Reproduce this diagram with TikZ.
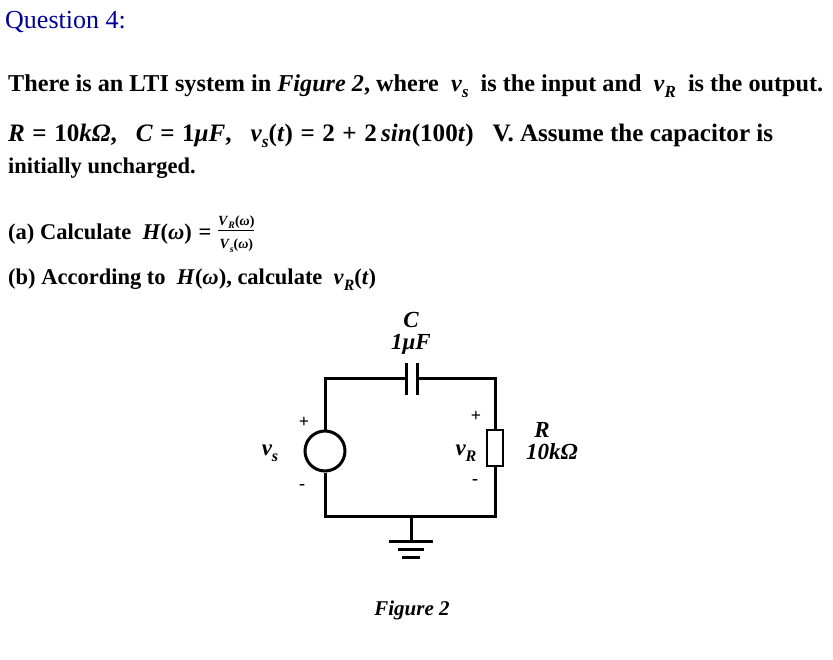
\documentclass[tikz,border=0pt]{standalone}
\usepackage{fontspec}
\setmainfont{Liberation Serif}
\newcommand{\mi}[1]{\textit{#1}}
\newcommand{\sbs}[1]{\raisebox{-0.25em}{\scalebox{0.7}{\textit{#1}}}}
\newcommand{\eqs}[1]{\hspace{0.3em}#1\hspace{0.3em}}
\begin{document}
\begin{tikzpicture}[x=1pt,y=-1pt,
  wire/.style={line width=3pt},
  txt/.style={anchor=west,inner sep=0pt,font=\fontsize{22.5}{26}\selectfont\bfseries},
  lbl/.style={inner sep=0pt,font=\fontsize{23}{26}\selectfont\bfseries\itshape},
  pm/.style={inner sep=0pt,font=\fontsize{18}{20}\selectfont\bfseries}]
\useasboundingbox (0,0) rectangle (833,660);
\node[anchor=west,inner sep=0pt,text=blue!60!black,font=\fontsize{26}{30}\selectfont] (q) at (5,22) {Question 4:};
\node[txt] (l1) at (8,86) {\resizebox{815pt}{!}{There is an LTI system in \textit{Figure 2}, where \ \mi{v}\sbs{s} \ is the input and \ \mi{v}\sbs{R} \ is the output.}};
\node[txt] (l2) at (8,136) {\resizebox{765pt}{!}{\mi{R}\eqs{=}10\mi{kΩ}, \ \ \mi{C}\eqs{=}1\mi{μF}, \ \ \mi{v}\sbs{s}(\mi{t})\eqs{=}2\eqs{+}2\,\mi{sin}(100\mi{t}) \ \ V. Assume the capacitor is}};
\node[txt] (l3) at (8,168) {initially uncharged.};
\node[txt] (l4) at (8,232) {(a) Calculate \ \mi{H}(\mi{ω})\eqs{=}\raisebox{0.1em}{\begin{tabular}{@{}c@{}}\fontsize{14}{15}\selectfont\mi{V}\sbs{R}(\mi{ω})\\[-3pt]\hline\fontsize{14}{15}\selectfont\mi{V}\sbs{s}(\mi{ω})\end{tabular}}};
\node[txt] (l5) at (8,280) {(b) According to \ \mi{H}(\mi{ω}), calculate \ \mi{v}\sbs{R}(\mi{t})};
% circuit
\coordinate (tl) at (325,379); \coordinate (tr) at (495,379);
\coordinate (bl) at (325,516); \coordinate (br) at (495,516);
\coordinate (c1) at (406,379); \coordinate (c2) at (417,379);
\node[draw,line width=3pt,circle,minimum size=40pt,inner sep=0pt] (src) at (325,451) {};
\node[draw,line width=2.6pt,rectangle,minimum width=16pt,minimum height=36pt,inner sep=0pt] (res) at (495,448) {};
\coordinate (g) at (411,516); \coordinate (g1) at (411,541);
\draw[wire] (c1) -- (tl) -- (src.north);
\draw[wire] (src.south) -- (bl) -- (br) -- (res.south);
\draw[wire] (res.north) -- (tr) -- (c2);
\draw[wire] (406,363) -- (406,395);
\draw[wire] (417,363) -- (417,395);
\draw[wire] (g) -- (g1);
\draw[wire] (389,541) -- (433,541);
\draw[wire] (398,549) -- (424,549);
\draw[wire] (402,557) -- (420,557);
\node[lbl] (cl) at (411,320) {C};
\node[lbl] (cv) at (411,344) {1μF};
\node[lbl] (rl) at (542,430) {R};
\node[lbl] (rv) at (552,452) {10kΩ};
\node[lbl] (vs) at (270,453) {v\sbs{s}};
\node[lbl] (vr) at (466,453) {v\sbs{R}};
\node[pm] (p1) at (304,422) {+};
\node[pm] (m1) at (302,487) {-};
\node[pm] (p2) at (476,416) {+};
\node[pm] (m2) at (475,482) {-};
\node[inner sep=0pt,font=\fontsize{21}{24}\selectfont\bfseries\itshape] (fig) at (412,610) {Figure 2};
\end{tikzpicture}
\end{document}
